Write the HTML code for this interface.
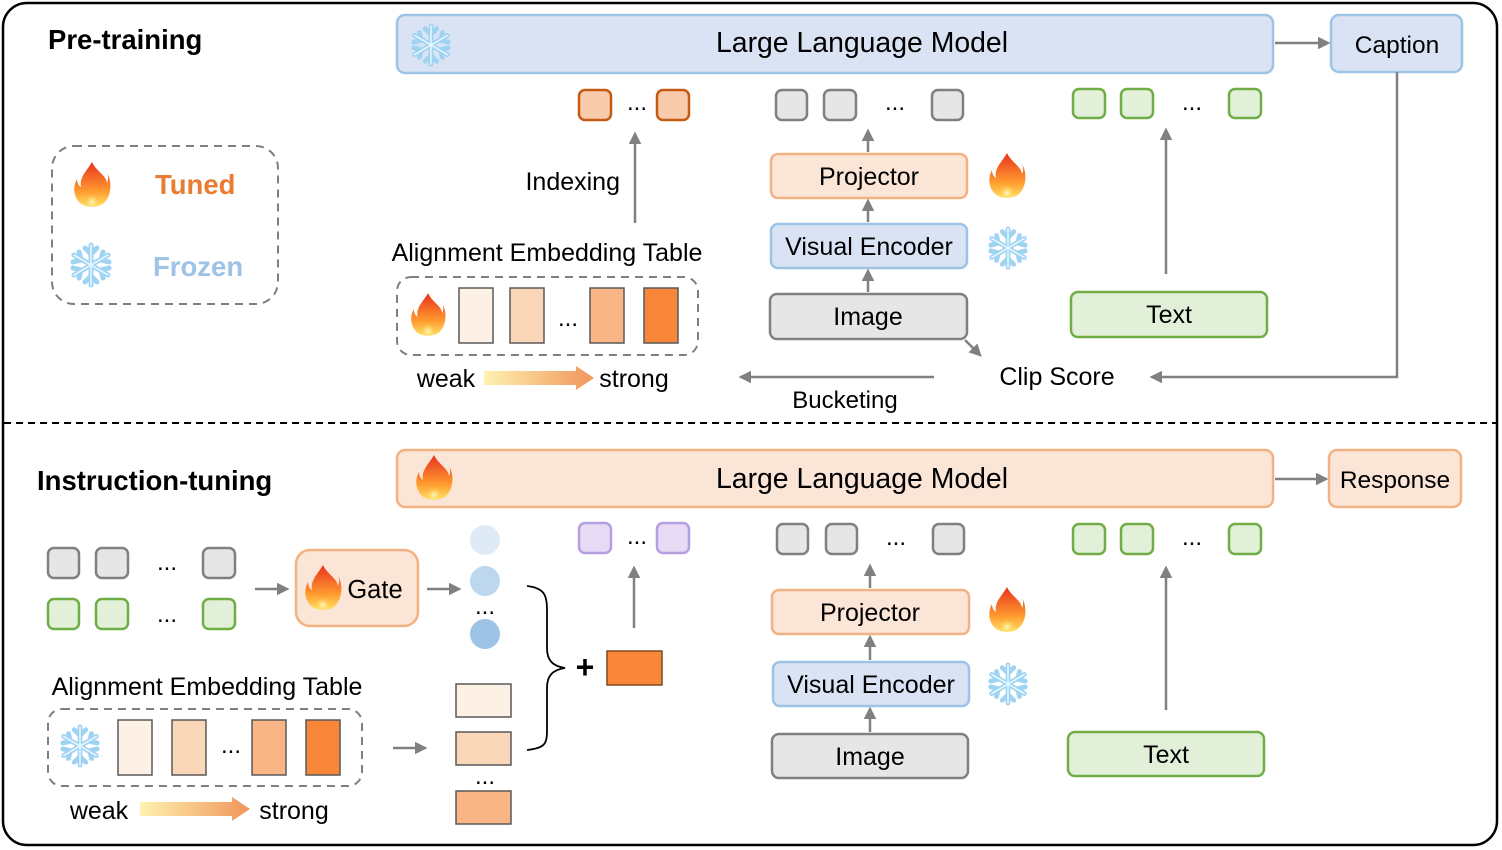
<!DOCTYPE html>
<html><head><meta charset="utf-8"><style>
html,body{margin:0;padding:0;background:#fff}
svg{display:block}
text{font-family:"Liberation Sans",Arial,sans-serif;fill:#000}
</style></head><body>
<svg width="1502" height="850" viewBox="0 0 1502 850" xmlns="http://www.w3.org/2000/svg">
<defs>
<linearGradient id="fg" x1="0" y1="1" x2="0" y2="0">
<stop offset="0" stop-color="#FFE066"/><stop offset="0.35" stop-color="#FF9A2E"/><stop offset="1" stop-color="#E8321E"/></linearGradient>
<radialGradient id="fc" cx="0.5" cy="0.75" r="0.4"><stop offset="0" stop-color="#FFF8C0"/><stop offset="1" stop-color="#FFD040" stop-opacity="0"/></radialGradient>
<symbol id="fire" viewBox="-20 -24 40 48" overflow="visible">
<path d="M0,-23 C4,-14 14,-10 15,-2 C17,-6 16,-10 15,-12 C20,-4 20,10 12,18 C7,23 -7,23 -12,18 C-19,11 -19,1 -15,-6 C-15,-2 -13,1 -11,2 C-13,-8 -5,-14 0,-23 Z" fill="url(#fg)"/>
<ellipse cx="0" cy="12" rx="10" ry="10" fill="url(#fc)"/>
</symbol>
<symbol id="snow" viewBox="-24 -24 48 48" overflow="visible">
<g stroke="#9FD3F2" stroke-width="5" stroke-linecap="round" fill="none">
<path d="M0,-20V20M-17,-10L17,10M-17,10L17,-10"/>
<path d="M-6,-17L0,-11L6,-17M-6,17L0,11L6,17M-18,-3L-10,-5L-12,-13M18,3L10,5L12,13M-18,3L-10,5L-12,13M18,-3L10,-5L12,-13"/>
</g>
<g stroke="#E6F6FF" stroke-width="1.6" stroke-linecap="round" fill="none">
<path d="M0,-20V20M-17,-10L17,10M-17,10L17,-10"/>
</g>
</symbol>
<marker id="ah" viewBox="0 0 10 10" refX="8" refY="5" markerWidth="5" markerHeight="5" orient="auto"><path d="M0,0L10,5L0,10Z" fill="#808080"/></marker>
<linearGradient id="ws" x1="0" x2="1"><stop offset="0" stop-color="#FFF2B0"/><stop offset="1" stop-color="#F0955A"/></linearGradient>
</defs>

<rect x="3" y="3" width="1494" height="842" rx="24" fill="#fff" stroke="#000" stroke-width="2.5"/>
<line x1="4" y1="423" x2="1496" y2="423" stroke="#000" stroke-width="2" stroke-dasharray="7,5"/>

<!-- ========== PRE-TRAINING ========== -->
<text x="48" y="49" font-size="27.5" font-weight="bold">Pre-training</text>
<rect x="52" y="146" width="226" height="158" rx="22" fill="none" stroke="#7F7F7F" stroke-width="2" stroke-dasharray="8,6"/>
<use href="#fire" x="72" y="161" width="40" height="48"/>
<text x="155" y="194" font-size="27.5" font-weight="bold" style="fill:#E87C31">Tuned</text>
<use href="#snow" x="67" y="241" width="48" height="48"/>
<text x="153" y="276" font-size="27.5" font-weight="bold" style="fill:#9DC3E6">Frozen</text>

<rect x="397" y="15" width="876" height="58" rx="8" fill="#DAE3F3" stroke="#9DC3E6" stroke-width="2.5"/>
<use href="#snow" x="408" y="22" width="46" height="46"/>
<text x="862" y="52" font-size="28.4" text-anchor="middle">Large Language Model</text>
<line x1="1275" y1="43" x2="1328" y2="43" stroke="#808080" stroke-width="2.5" marker-end="url(#ah)"/>
<rect x="1331" y="15" width="131" height="57" rx="8" fill="#DAE3F3" stroke="#9DC3E6" stroke-width="2.5"/>
<text x="1397" y="53" font-size="24.5" text-anchor="middle">Caption</text>
<polyline points="1397,72 1397,377 1152,377" fill="none" stroke="#808080" stroke-width="2.5" marker-end="url(#ah)"/>

<g stroke-width="2.5">
<rect x="579" y="90" width="32" height="30" rx="6" fill="#F8CBAD" stroke="#C55A11"/>
<rect x="657" y="90" width="32" height="30" rx="6" fill="#F8CBAD" stroke="#C55A11"/>
<rect x="776" y="90" width="31" height="30" rx="6" fill="#E7E6E6" stroke="#808080"/>
<rect x="824" y="90" width="32" height="30" rx="6" fill="#E7E6E6" stroke="#808080"/>
<rect x="932" y="90" width="31" height="30" rx="6" fill="#E7E6E6" stroke="#808080"/>
<rect x="1073" y="89" width="32" height="29" rx="6" fill="#E2F0D9" stroke="#70AD47"/>
<rect x="1121" y="89" width="32" height="29" rx="6" fill="#E2F0D9" stroke="#70AD47"/>
<rect x="1229" y="89" width="32" height="29" rx="6" fill="#E2F0D9" stroke="#70AD47"/>
</g>
<g font-size="24" text-anchor="middle">
<text x="637" y="110">...</text><text x="895" y="110">...</text><text x="1192" y="110">...</text></g>

<line x1="635" y1="223" x2="635" y2="134" stroke="#808080" stroke-width="2.5" marker-end="url(#ah)"/>
<text x="620" y="190" font-size="25" text-anchor="end">Indexing</text>

<rect x="771" y="154" width="196" height="44" rx="7" fill="#FBE5D6" stroke="#F4B183" stroke-width="2.5"/>
<text x="869" y="185" font-size="25" text-anchor="middle">Projector</text>
<use href="#fire" x="987" y="152" width="40" height="48"/>
<rect x="771" y="224" width="196" height="44" rx="7" fill="#DAE3F3" stroke="#9DC3E6" stroke-width="2.5"/>
<text x="869" y="255" font-size="25" text-anchor="middle">Visual Encoder</text>
<use href="#snow" x="985" y="225" width="46" height="46"/>
<rect x="770" y="294" width="197" height="45" rx="7" fill="#E7E6E6" stroke="#808080" stroke-width="2.5"/>
<text x="868" y="325" font-size="25" text-anchor="middle">Image</text>
<g stroke="#808080" stroke-width="2.5">
<line x1="868" y1="152" x2="868" y2="131" marker-end="url(#ah)"/>
<line x1="868" y1="222" x2="868" y2="201" marker-end="url(#ah)"/>
<line x1="868" y1="292" x2="868" y2="271" marker-end="url(#ah)"/>
<line x1="965" y1="340" x2="980" y2="355" marker-end="url(#ah)"/>
<line x1="1166" y1="274" x2="1166" y2="130" marker-end="url(#ah)"/>
<line x1="934" y1="377" x2="741" y2="377" marker-end="url(#ah)"/>
</g>
<rect x="1071" y="292" width="196" height="45" rx="7" fill="#E2F0D9" stroke="#70AD47" stroke-width="2.5"/>
<text x="1169" y="323" font-size="25" text-anchor="middle">Text</text>
<text x="1057" y="385" font-size="25" text-anchor="middle">Clip Score</text>
<text x="845" y="408" font-size="24" text-anchor="middle">Bucketing</text>

<text x="547" y="261" font-size="25" text-anchor="middle">Alignment Embedding Table</text>
<rect x="397" y="277" width="301" height="78" rx="14" fill="none" stroke="#7F7F7F" stroke-width="2" stroke-dasharray="8,6"/>
<use href="#fire" x="409" y="292" width="38" height="46"/>
<g stroke="#595959" stroke-width="1.5">
<rect x="459" y="288" width="34" height="55" fill="#FDF1E6"/>
<rect x="510" y="288" width="34" height="55" fill="#FBD7BA"/>
<rect x="590" y="288" width="34" height="55" fill="#F9B585"/>
<rect x="644" y="288" width="34" height="55" fill="#F8873A"/>
</g>
<text x="568" y="326" font-size="24" text-anchor="middle">...</text>
<text x="446" y="387" font-size="25" text-anchor="middle">weak</text>
<path d="M484,371 H576 V366 L594,378 L576,390 V385 H484 Z" fill="url(#ws)"/>
<text x="634" y="387" font-size="25" text-anchor="middle">strong</text>

<!-- ========== INSTRUCTION TUNING ========== -->
<text x="37" y="490" font-size="27.5" font-weight="bold">Instruction-tuning</text>
<rect x="397" y="450" width="876" height="57" rx="8" fill="#FBE5D6" stroke="#F4B183" stroke-width="2.5"/>
<use href="#fire" x="414" y="454" width="40" height="48"/>
<text x="862" y="488" font-size="28.4" text-anchor="middle">Large Language Model</text>
<line x1="1275" y1="479" x2="1326" y2="479" stroke="#808080" stroke-width="2.5" marker-end="url(#ah)"/>
<rect x="1329" y="450" width="132" height="57" rx="8" fill="#FBE5D6" stroke="#F4B183" stroke-width="2.5"/>
<text x="1395" y="488" font-size="24.5" text-anchor="middle">Response</text>

<g stroke-width="2.5">
<rect x="48" y="548" width="31" height="30" rx="6" fill="#E7E6E6" stroke="#808080"/>
<rect x="96" y="548" width="32" height="30" rx="6" fill="#E7E6E6" stroke="#808080"/>
<rect x="203" y="548" width="32" height="30" rx="6" fill="#E7E6E6" stroke="#808080"/>
<rect x="48" y="599" width="31" height="30" rx="6" fill="#E2F0D9" stroke="#70AD47"/>
<rect x="96" y="599" width="32" height="30" rx="6" fill="#E2F0D9" stroke="#70AD47"/>
<rect x="203" y="599" width="32" height="30" rx="6" fill="#E2F0D9" stroke="#70AD47"/>
<rect x="579" y="523" width="32" height="30" rx="6" fill="#E6DAF5" stroke="#B4A0E0"/>
<rect x="657" y="523" width="32" height="30" rx="6" fill="#E6DAF5" stroke="#B4A0E0"/>
<rect x="777" y="524" width="31" height="30" rx="6" fill="#E7E6E6" stroke="#808080"/>
<rect x="826" y="524" width="31" height="30" rx="6" fill="#E7E6E6" stroke="#808080"/>
<rect x="933" y="524" width="31" height="30" rx="6" fill="#E7E6E6" stroke="#808080"/>
<rect x="1073" y="524" width="32" height="30" rx="6" fill="#E2F0D9" stroke="#70AD47"/>
<rect x="1121" y="524" width="32" height="30" rx="6" fill="#E2F0D9" stroke="#70AD47"/>
<rect x="1229" y="524" width="32" height="30" rx="6" fill="#E2F0D9" stroke="#70AD47"/>
</g>
<g font-size="24" text-anchor="middle">
<text x="167" y="570">...</text><text x="167" y="622">...</text>
<text x="637" y="544">...</text><text x="896" y="545">...</text><text x="1192" y="545">...</text>
<text x="485" y="614">...</text><text x="485" y="784">...</text><text x="231" y="753">...</text></g>

<g stroke="#808080" stroke-width="2.5">
<line x1="255" y1="589" x2="287" y2="589" marker-end="url(#ah)"/>
<line x1="427" y1="589" x2="459" y2="589" marker-end="url(#ah)"/>
<line x1="393" y1="748" x2="425" y2="748" marker-end="url(#ah)"/>
<line x1="634" y1="628" x2="634" y2="568" marker-end="url(#ah)"/>
<line x1="870" y1="588" x2="870" y2="566" marker-end="url(#ah)"/>
<line x1="870" y1="660" x2="870" y2="637" marker-end="url(#ah)"/>
<line x1="870" y1="732" x2="870" y2="709" marker-end="url(#ah)"/>
<line x1="1166" y1="710" x2="1166" y2="568" marker-end="url(#ah)"/>
</g>

<rect x="296" y="550" width="122" height="76" rx="14" fill="#FBE5D6" stroke="#F4B183" stroke-width="2.5"/>
<use href="#fire" x="303" y="564" width="40" height="48"/>
<text x="375" y="598" font-size="25.5" text-anchor="middle">Gate</text>

<circle cx="485" cy="540" r="15" fill="#DEEBF7"/>
<circle cx="485" cy="581" r="15" fill="#BDD7EE"/>
<circle cx="485" cy="634" r="15" fill="#9DC3E6"/>

<path d="M527,586 C545,588 547,596 547,610 V648 C547,660 552,666 565,668 C552,670 547,676 547,688 V730 C547,744 545,748 527,750" fill="none" stroke="#000" stroke-width="1.8"/>
<text x="585" y="678" font-size="32" font-weight="bold" text-anchor="middle">+</text>
<rect x="607" y="651" width="55" height="34" fill="#F8873A" stroke="#7F4A20" stroke-width="1.5"/>

<rect x="772" y="590" width="197" height="44" rx="7" fill="#FBE5D6" stroke="#F4B183" stroke-width="2.5"/>
<text x="870" y="621" font-size="25" text-anchor="middle">Projector</text>
<use href="#fire" x="987" y="586" width="40" height="48"/>
<rect x="773" y="662" width="196" height="44" rx="7" fill="#DAE3F3" stroke="#9DC3E6" stroke-width="2.5"/>
<text x="871" y="693" font-size="25" text-anchor="middle">Visual Encoder</text>
<use href="#snow" x="985" y="661" width="46" height="46"/>
<rect x="772" y="734" width="196" height="44" rx="7" fill="#E7E6E6" stroke="#808080" stroke-width="2.5"/>
<text x="870" y="765" font-size="25" text-anchor="middle">Image</text>
<rect x="1068" y="732" width="196" height="44" rx="7" fill="#E2F0D9" stroke="#70AD47" stroke-width="2.5"/>
<text x="1166" y="763" font-size="25" text-anchor="middle">Text</text>

<text x="207" y="695" font-size="25" text-anchor="middle">Alignment Embedding Table</text>
<rect x="48" y="709" width="314" height="77" rx="14" fill="none" stroke="#7F7F7F" stroke-width="2" stroke-dasharray="8,6"/>
<use href="#snow" x="57" y="723" width="46" height="46"/>
<g stroke="#595959" stroke-width="1.5">
<rect x="118" y="720" width="34" height="55" fill="#FDF1E6"/>
<rect x="172" y="720" width="34" height="55" fill="#FBD7BA"/>
<rect x="252" y="720" width="34" height="55" fill="#F9B585"/>
<rect x="306" y="720" width="34" height="55" fill="#F8873A"/>
<rect x="456" y="684" width="55" height="33" fill="#FDF1E6"/>
<rect x="456" y="732" width="55" height="33" fill="#FBD7BA"/>
<rect x="456" y="791" width="55" height="33" fill="#F9B585"/>
</g>
<text x="99" y="819" font-size="25" text-anchor="middle">weak</text>
<path d="M140,802 H232 V797 L250,809 L232,821 V816 H140 Z" fill="url(#ws)"/>
<text x="294" y="819" font-size="25" text-anchor="middle">strong</text>
</svg>
</body></html>
